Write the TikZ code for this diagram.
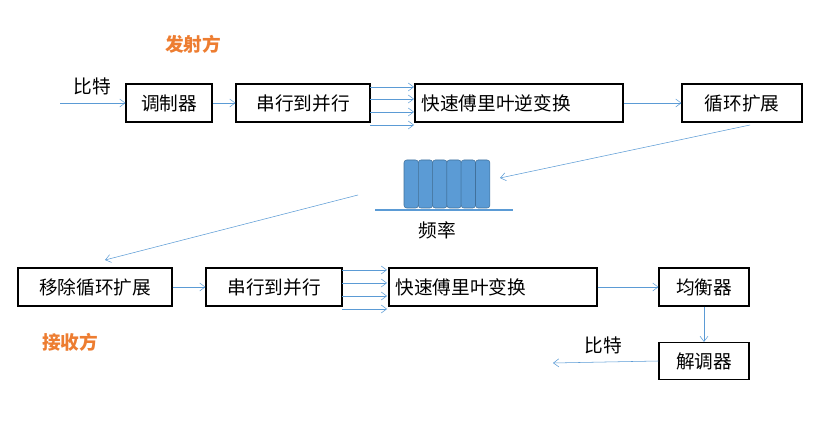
\documentclass[tikz,border=0pt]{standalone}
\usepackage{fontspec}
\setmainfont{Noto Sans CJK SC}
\usetikzlibrary{arrows.meta}
\definecolor{ar}{HTML}{5B9BD5}
\definecolor{bar}{HTML}{5B9BD5}
\definecolor{barb}{HTML}{41719C}
\definecolor{org}{HTML}{ED7D31}
\begin{document}
\begin{tikzpicture}[x=0.75pt,y=-0.75pt,
  box/.style={draw=black,thick,inner sep=0pt,font=\fontsize{14}{16}\selectfont},
  arr/.style={draw=ar,thin,-{Straight Barb[length=4pt,width=6pt]}},
  lbl/.style={font=\fontsize{14}{16}\selectfont},
  ttl/.style={font=\fontsize{14}{16}\selectfont\bfseries,text=org}]
\useasboundingbox (0,0) rectangle (839,423);
% top row
\node[box,minimum width=86*0.75pt,minimum height=38*0.75pt] (mod) at (169,103) {调制器};
\node[box,minimum width=134*0.75pt,minimum height=38*0.75pt] (sp1) at (303,103) {串行到并行};
\node[box,minimum width=208*0.75pt,minimum height=38*0.75pt,text width=195*0.75pt,align=left] (ifft) at (519,103) {快速傅里叶逆变换};
\node[box,minimum width=120*0.75pt,minimum height=38*0.75pt] (cp) at (742,103) {循环扩展};
\coordinate (in) at (60,103);
\node[lbl] (b1) at (92,86) {比特};
\node[ttl] (tx) at (193,44) {发射方};
\draw[arr] (in) -- (mod.west);
\draw[arr] (mod.east) -- (sp1.west);
\foreach \y in {87,99,112,125}{\draw[arr] (370,\y) -- (414,\y);}
\draw[arr] (ifft.east) -- (cp.west);
% spectrum
\foreach \i in {0,...,5}{
  \filldraw[fill=bar,draw=barb,rounded corners=2pt] (404+\i*14.3,208) rectangle (418.3+\i*14.3,160);}
\draw[ar,thick] (375,210) -- (513,210);
\node[lbl] (freq) at (437,230) {频率};
\coordinate (s1) at (750,125); \coordinate (e1) at (500,178);
\draw[arr] (s1) -- (e1);
\coordinate (s2) at (358,195); \coordinate (e2) at (105,260);
\draw[arr] (s2) -- (e2);
% bottom row
\node[box,minimum width=154*0.75pt,minimum height=38*0.75pt] (rcp) at (95,287) {移除循环扩展};
\node[box,minimum width=136*0.75pt,minimum height=38*0.75pt] (sp2) at (274,287) {串行到并行};
\node[box,minimum width=208*0.75pt,minimum height=38*0.75pt,text width=195*0.75pt,align=left] (fft) at (493,287) {快速傅里叶变换};
\node[box,minimum width=90*0.75pt,minimum height=38*0.75pt] (eq) at (704,287) {均衡器};
\node[box,minimum width=90*0.75pt,minimum height=37*0.75pt] (dem) at (704,361) {解调器};
\node[ttl] (rx) at (70,342) {接收方};
\node[lbl] (b2) at (603,345) {比特};
\coordinate (out) at (553,363);
\draw[arr] (rcp.east) -- (sp2.west);
\foreach \y in {270,283,296,309}{\draw[arr] (342,\y) -- (387,\y);}
\draw[arr] (fft.east) -- (eq.west);
\draw[arr] (eq.south) -- (dem.north);
\draw[arr] (dem.west) -- (out);
\end{tikzpicture}
\end{document}
